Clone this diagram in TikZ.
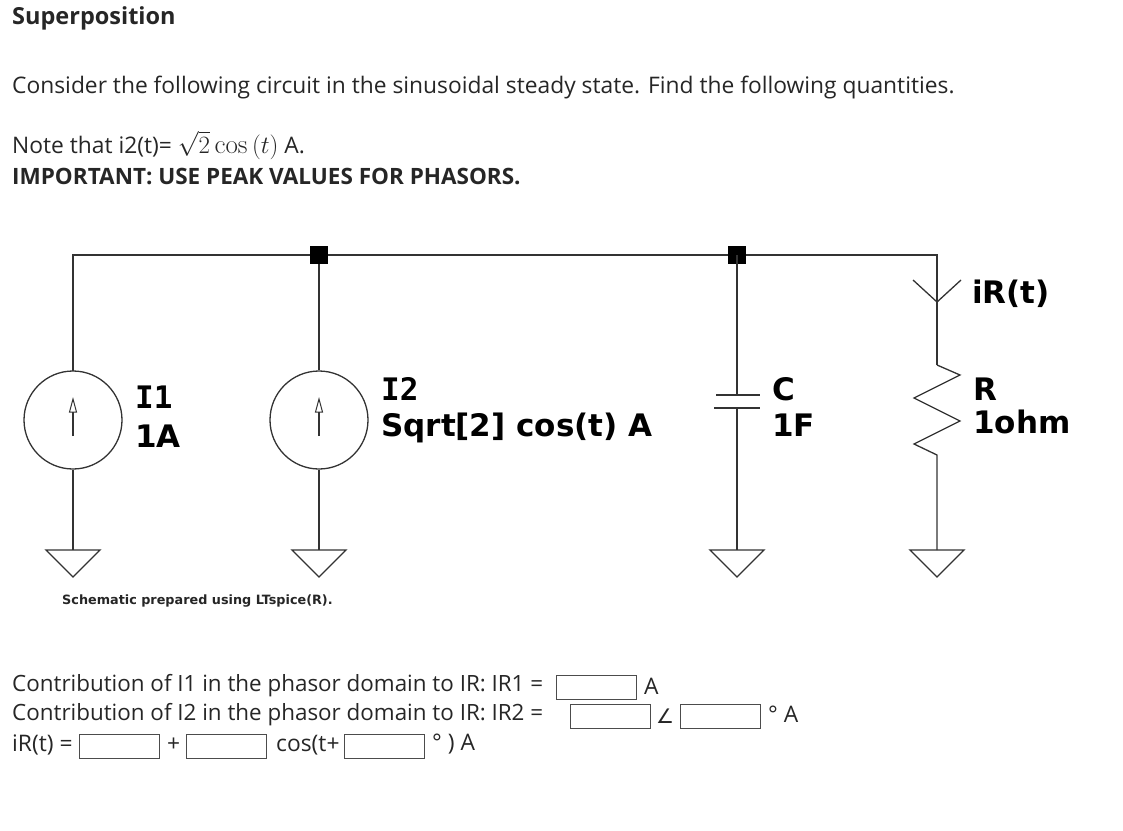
\documentclass[tikz,border=0pt]{standalone}
\usepackage{fontspec}
\setmainfont{Open Sans}
\newfontfamily\spice{DejaVu Sans}
\newfontfamily\spicemono{DejaVu Sans Mono}
\newfontfamily\lmr{Latin Modern Roman}
\begin{document}
\begin{tikzpicture}[x=1pt,y=-1pt,
  w/.style={line width=1.3pt,black!80},
  gnd/.style={w},
  lab/.style={font=\spice\bfseries\fontsize{31}{34}\selectfont,anchor=west,inner sep=0},
  txt/.style={font=\fontsize{22.8}{26}\selectfont,anchor=west,inner sep=0,text=black!85},
  box/.style={draw=black!70,line width=0.8pt,minimum width=80pt,minimum height=24pt,inner sep=0}]
\useasboundingbox (0,0) rectangle (1123,830);
% texts
\node[txt,font=\bfseries\fontsize{23.5}{26}\selectfont] (title) at (12,18) {Superposition};
\node[txt] (t1) at (12,88) {Consider the following circuit in the sinusoidal steady state. Find the following quantities.};
\node[txt] (t2) at (12,145) {Note that i2(t)= {\lmr\fontsize{27}{30}\selectfont$\sqrt{2}$\,cos\,$\bigl(t\bigr)$} A.};
\node[txt,font=\bfseries\fontsize{22.5}{26}\selectfont] (t3) at (12,176) {IMPORTANT: USE PEAK VALUES FOR PHASORS.};
% coordinates
\coordinate (a) at (73,255); \coordinate (b) at (319,255); \coordinate (c) at (737,255); \coordinate (d) at (937,255);
\draw[w] (73,371) -- (a) -- (d) -- (937,365);
% sources
\foreach \x/\n in {73/s1,319/s2}{
  \node[circle,draw,w,minimum size=98pt,inner sep=0] (\n) at (\x,420) {};
  \draw[w] (\x,255) -- (\n.north);
  \draw[w] (\n.south) -- (\x,550);
  \draw[w] (\x,436) -- (\x,412);
  \draw[line width=1pt,black!80] (\x-3.5,412) -- (\x,399) -- (\x+3.5,412) -- cycle;
  \draw[gnd] (\x-27,550) -- (\x+27,550) -- (\x,577) -- cycle;
}
\fill[black] (319,255) ++(-9,-9) rectangle ++(18,18);
\fill[black] (737,255) ++(-9,-9) rectangle ++(18,18);
% capacitor
\draw[w] (737,255) -- (737,395);
\draw[w] (716,395) -- (760,395);
\draw[w] (714,408) -- (760,408);
\draw[w] (737,408) -- (737,550);
\draw[gnd] (710,550) -- (764,550) -- (737,577) -- cycle;
% resistor
\draw[w] (937,365) -- (960,375) -- (914,398) -- (960,421) -- (914,444) -- (937,455) -- (937,550);
\draw[gnd] (910,550) -- (964,550) -- (937,577) -- cycle;
\draw[w] (913,280) -- (937,302) -- (961,280);
% labels
\node[lab,font=\spicemono\bfseries\fontsize{31}{34}\selectfont] (l1) at (135,397) {I1};
\node[lab] (l1b) at (135,436) {1A};
\node[lab,font=\spicemono\bfseries\fontsize{31}{34}\selectfont] (l2) at (381,389) {I2};
\node[lab] (l2b) at (381,428) {Sqrt[2] cos(t) A};
\node[lab] (lc) at (772,389) {C};
\node[lab] (lc2) at (772,425) {1F};
\node[lab] (lr) at (973,389) {R};
\node[lab] (lr2) at (973,422) {1ohm};
\node[lab] (li) at (972,294) {iR(t)};
\node[anchor=west,inner sep=0,font=\spice\bfseries\fontsize{12.8}{14}\selectfont,text=black!85] (sch) at (62,601) {Schematic prepared using LTspice(R).};
% questions
\node[txt,font=\fontsize{22.4}{26}\selectfont] (q1) at (12,686) {Contribution of I1 in the phasor domain to IR: IR1 =};
\node[box] (b1) at (596,687) {};
\node[txt] (q1a) at (644,686) {A};
\node[txt,font=\fontsize{22.4}{26}\selectfont] (q2) at (12,715) {Contribution of I2 in the phasor domain to IR: IR2 =};
\node[box] (b2) at (610,716) {};
\node[txt,font=\spice\fontsize{20}{24}\selectfont] (ang) at (656,716) {∠};
\node[box] (b3) at (720,716) {};
\node[txt] (q2a) at (768,714) {° A};
\node[txt] (q3) at (12,745) {iR(t) =};
\node[box] (b4) at (119,746) {};
\node[txt] (pl) at (167,745) {+};
\node[box] (b5) at (226,746) {};
\node[txt] (cs) at (276,745) {cos(t+};
\node[box] (b6) at (384,746) {};
\node[txt] (q3a) at (432,744) {° ) A};
\end{tikzpicture}
\end{document}
